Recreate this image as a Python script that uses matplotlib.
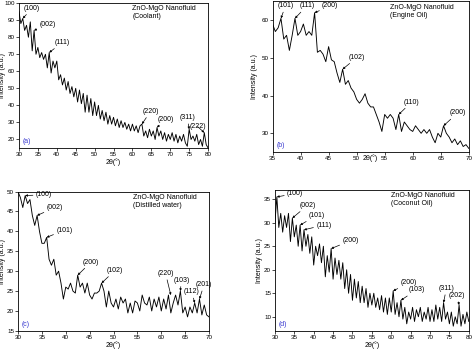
import matplotlib
matplotlib.use("Agg")
import matplotlib.pyplot as plt
import numpy as np

plt.rcParams['font.family'] = ['Liberation Sans', 'DejaVu Sans']
plt.rcParams['font.size'] = 5

# (a) coolant, 30-80 deg every 0.5
coolant = [95, 88, 91, 84, 87, 80, 89, 72, 84, 70, 74, 68, 71, 67, 70, 62, 71, 59, 66, 62,
           66, 55, 58, 52, 56, 49, 54, 47, 51, 45, 50, 42, 49, 41, 47, 36, 46, 36, 44, 34,
           42, 34, 40, 32, 37, 31, 36, 29, 34, 29, 33, 28, 32, 27, 31, 27, 30, 26, 29, 25,
           29, 25, 28, 24, 28, 29, 22, 25, 21, 26, 22, 25, 20, 27, 22, 25, 20, 24, 19, 23,
           20, 24, 19, 23, 18, 22, 19, 23, 18, 16, 26, 20, 22, 19, 23, 17, 20, 16, 24, 17, 15]
coolant_peaks = ["(100)", "(002)", "(111)", "(220)", "(200)", "(311)", "(222)"]
coolant_pos = [31.0, 34.0, 38.0, 62.5, 66.5, 75.0, 79.0]
coolant_int = [91, 84, 71, 29, 27, 26, 24]

# (b) engine oil, 35-70 deg every 0.5
engine = [59, 57, 58, 60.5, 55, 56, 52, 56, 60.5, 56, 57, 59, 56, 57, 56, 62, 51.5, 52, 51, 49,
          53, 49.5, 49, 46, 43.5, 47, 43, 44, 42, 41, 39, 38, 39, 40.5, 38, 37, 37, 35, 33, 30.5,
          35, 34, 35, 34, 31, 35, 30.5, 33, 32, 31, 30.5, 32, 31, 30, 31, 30, 31, 29, 27.5, 30,
          29, 32, 30, 29, 27.5, 28.5, 27, 28, 26.5, 27, 26]
engine_peaks = ["(101)", "(111)", "(200)", "(102)", "(110)", "(200)"]
engine_pos = [36.5, 39.0, 42.5, 47.5, 57.5, 65.5]
engine_int = [60.5, 60.5, 62, 47, 35, 32]

# (c) distilled water, 30-70 deg every 0.5
water = [50, 48.5, 46, 49, 47, 48, 44, 41.5, 44, 40, 37, 37, 38.5, 33, 31.5, 33, 29, 30, 27, 23,
         26, 25.5, 27, 25, 24.5, 29, 26, 27, 24.5, 27, 24, 23, 24.5, 24.5, 25, 27, 25, 21, 25, 22,
         21, 23, 20.5, 23.5, 22, 23, 19.5, 22, 19.5, 22.5, 22, 20, 24, 22, 21.5, 23.5, 20, 23, 21, 23.5,
         20, 23, 20.5, 24, 19.5, 22, 24, 21.5, 25, 19.5, 21, 18.5, 21, 19.5, 22, 19.5, 23, 19, 21.5, 19,
         18.5]
water_peaks = ["(100)", "(002)", "(101)", "(200)", "(102)", "(220)", "(103)", "(112)", "(201)"]
water_pos = [31.5, 34.0, 36.0, 42.5, 47.5, 62.0, 64.0, 67.0, 68.0]
water_int = [49, 44, 38.5, 29, 27, 24, 25, 22, 23]

# (d) coconut oil, 30-80 deg every 0.5
coconut = [30, 35.5, 29, 32, 28, 31.5, 29, 32, 26, 31, 27, 29.5, 25, 29.5, 24, 28.5, 25, 27.5, 23.5, 27,
           21, 25, 23, 25.5, 21.5, 25, 18.5, 23, 19.5, 24.5, 18, 22.5, 19, 22, 18, 21.5, 16, 20, 15, 19,
           13.5, 18, 14, 17.5, 13, 16.5, 13, 16, 12, 15, 12.5, 15, 12, 14, 11.5, 14.5, 11, 14, 10.5, 14,
           11, 15.5, 10.5, 13, 10, 13.5, 9.5, 12, 8.5, 11, 9.5, 12, 9, 11.5, 10, 12, 9, 11, 9.5, 12,
           9, 11.5, 9, 12.5, 9.5, 12, 9, 13, 9.5, 11, 8.5, 11, 8, 10, 8.5, 12.5, 8, 10.5, 8.5, 11, 9]
coconut_peaks = ["(100)", "(002)", "(101)", "(111)", "(200)", "(200)", "(103)", "(311)", "(202)"]
coconut_pos = [30.5, 34.5, 36.5, 37.5, 44.5, 60.5, 62.5, 73.5, 77.5]
coconut_int = [35.5, 31, 29.5, 28.5, 24.5, 15.5, 13.5, 13, 12.5]

fig = plt.figure(figsize=(4.74, 3.49), dpi=100)


def panel(rect, lo, hi, y, ylim, xticks, yticks, peaks, pos, inten, text_xy, name, letter,
          ylab_x, xlab_y):
    ax = fig.add_axes(rect)
    x = np.linspace(lo, hi, len(y))
    ax.plot(x, y, color="black", lw=0.65)
    ax.set_xlim(lo, hi)
    ax.set_ylim(*ylim)
    ax.set_xticks(xticks)
    ax.set_yticks(yticks)
    ax.tick_params(direction="out", length=2, width=0.5, pad=0.8, labelsize=4.5)
    for s in ax.spines.values():
        s.set_linewidth(0.6)
    ax.set_xlabel("2θ(°)", fontsize=5)
    ax.set_ylabel("Intensity (a.u.)", fontsize=5)
    ax.yaxis.set_label_coords(ylab_x, 0.5)
    ax.xaxis.set_label_coords(0.5, xlab_y)
    for lab, px, py, (tx, ty) in zip(peaks, pos, inten, text_xy):
        ax.annotate(lab, xy=(px, py), xytext=(tx, ty), ha="center", va="center",
                    fontsize=5, annotation_clip=False,
                    arrowprops=dict(arrowstyle="-|>", lw=0.5, color="black",
                                    mutation_scale=3, shrinkA=0, shrinkB=0))
    ax.text(0.6, 0.985, "ZnO-MgO Nanofluid\n" + name, transform=ax.transAxes,
            ha="left", va="top", fontsize=5, linespacing=1.2)
    ax.text(0.02, 0.045, letter, transform=ax.transAxes, ha="left", va="center",
            fontsize=5, color="#3a3ad0")
    return ax


panel([0.040, 0.576, 0.399, 0.415], 30, 80, coolant, (15, 100),
      range(30, 81, 5), range(20, 101, 10),
      coolant_peaks, coolant_pos, coolant_int,
      [(33.5, 97), (37.5, 87.5), (41.5, 77), (64.8, 36.5), (68.8, 32), (74.5, 32.8), (77.2, 27.6)],
      "(Coolant)", "(a)", -0.066, -0.072)

panel([0.575, 0.564, 0.414, 0.432], 35, 70, engine, (25, 65),
      range(35, 71, 5), range(30, 61, 10),
      engine_peaks, engine_pos, engine_int,
      [(37.3, 63.8), (41.1, 63.8), (45.3, 63.8), (50.1, 50.2), (59.8, 38.3), (68.0, 35.4)],
      "(Engine Oil)", "(b)", -0.075, -0.012)

panel([0.038, 0.052, 0.403, 0.399], 30, 70, water, (15, 50),
      range(30, 71, 5), range(15, 51, 5),
      water_peaks, water_pos, water_int,
      [(35.4, 49.2), (37.7, 46), (39.7, 40.3), (45.3, 32.3), (50.3, 30.2),
       (60.9, 29.4), (64.2, 27.7), (66.4, 24.8), (68.95, 26.6)],
      "(Distilled water)", "(c)", -0.064, -0.076)

panel([0.580, 0.052, 0.409, 0.404], 30, 80, coconut, (7, 37),
      range(30, 81, 5), range(10, 36, 5),
      coconut_peaks, coconut_pos, coconut_int,
      [(35.2, 36.2), (38.4, 33.7), (40.8, 31.6), (42.6, 29.5), (49.5, 26.2),
       (64.5, 17.2), (66.5, 15.75), (74.2, 16.0), (77.0, 14.5)],
      "(Coconut Oil)", "(d)", -0.062, -0.076)

fig.savefig("out.png", dpi=100)
